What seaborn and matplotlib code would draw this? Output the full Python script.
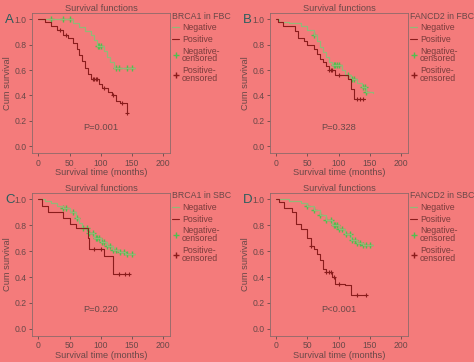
import numpy as np
import pandas as pd
import matplotlib
matplotlib.use("Agg")
import matplotlib.pyplot as plt
import seaborn as sns
from matplotlib.lines import Line2D

# ---- data (months, cumulative survival) ----
# A: BRCA1 in FBC
a_neg_t = [0, 55, 65, 75, 85, 90, 95, 105, 110, 115, 122, 155]
a_neg_s = [1.0, 0.97, 0.94, 0.91, 0.88, 0.84, 0.79, 0.75, 0.70, 0.66, 0.62, 0.62]
a_neg_c = [20, 40, 50, 96, 98, 100, 125, 130, 143, 150]
a_pos_t = [0, 10, 20, 30, 40, 48, 55, 62, 66, 70, 75, 80, 85, 98, 103, 112, 118, 125, 132, 142]
a_pos_s = [1.0, 0.98, 0.95, 0.92, 0.88, 0.85, 0.81, 0.77, 0.72, 0.67, 0.62, 0.57, 0.53, 0.49, 0.46, 0.43, 0.40, 0.36, 0.34, 0.26]
a_pos_c = [35, 45, 87, 90, 92, 95, 105, 120, 135, 142]

# B: FANCD2 in FBC
b_neg_t = [0, 5, 20, 40, 50, 60, 65, 70, 75, 80, 85, 90, 105, 110, 120, 130, 138, 145, 155]
b_neg_s = [1.0, 0.98, 0.97, 0.95, 0.92, 0.88, 0.83, 0.78, 0.74, 0.70, 0.66, 0.64, 0.60, 0.56, 0.53, 0.50, 0.47, 0.43, 0.42]
b_neg_c = [60, 92, 95, 98, 100, 115, 122, 125, 140, 143, 145]
b_pos_t = [0, 3, 10, 30, 35, 45, 50, 60, 65, 70, 75, 80, 85, 95, 115, 120, 125, 142]
b_pos_s = [1.0, 0.98, 0.95, 0.91, 0.85, 0.83, 0.80, 0.77, 0.73, 0.69, 0.66, 0.63, 0.60, 0.56, 0.53, 0.45, 0.37, 0.37]
b_pos_c = [85, 88, 90, 100, 130, 135, 140]

# C: BRCA1 in SBC
c_neg_t = [0, 10, 20, 30, 40, 50, 60, 65, 70, 80, 90, 100, 110, 120, 130, 140, 155]
c_neg_s = [1.0, 0.99, 0.97, 0.95, 0.93, 0.90, 0.86, 0.82, 0.78, 0.74, 0.70, 0.67, 0.64, 0.61, 0.59, 0.58, 0.58]
c_neg_c = [40, 45, 55, 62, 72, 78, 82, 88, 92, 95, 98, 102, 106, 110, 115, 120, 125, 132, 138, 142, 150]
c_pos_t = [0, 5, 15, 40, 50, 60, 80, 82, 105, 120, 145]
c_pos_s = [1.0, 0.95, 0.90, 0.86, 0.81, 0.78, 0.70, 0.62, 0.56, 0.42, 0.42]
c_pos_c = [90, 100, 130, 140, 145]

# D: FANCD2 in SBC
d_neg_t = [0, 20, 40, 50, 60, 70, 80, 90, 100, 110, 120, 130, 140, 155]
d_neg_s = [1.0, 0.99, 0.97, 0.95, 0.92, 0.88, 0.84, 0.80, 0.77, 0.73, 0.69, 0.66, 0.65, 0.65]
d_neg_c = [50, 60, 70, 80, 88, 92, 95, 98, 100, 105, 112, 118, 122, 126, 130, 135, 140, 145, 150]
d_pos_t = [0, 5, 12, 25, 32, 40, 50, 55, 60, 65, 70, 75, 80, 90, 95, 110, 120, 145]
d_pos_s = [1.0, 0.98, 0.93, 0.90, 0.81, 0.77, 0.70, 0.64, 0.62, 0.58, 0.53, 0.46, 0.44, 0.40, 0.35, 0.34, 0.26, 0.26]
d_pos_c = [55, 80, 85, 88, 92, 100, 130, 145]

letters = ["A", "B", "C", "D"]
groups = ["BRCA1 in FBC", "FANCD2 in FBC", "BRCA1 in SBC", "FANCD2 in SBC"]
pvals = ["P=0.001", "P=0.328", "P=0.220", "P<0.001"]

BG = "#f47b7b"
TXT = "#6a4848"
LEG = "#7a3c3c"
GREEN = "#93b877"
GREEN_M = "#4fbf4f"
RED = "#8a1c1c"

sns.set_theme(style="ticks")
plt.rcParams["font.family"] = ["Liberation Sans", "DejaVu Sans"]

fig = plt.figure(figsize=(4.74, 3.62), dpi=100, facecolor=BG)

panels = [
    (a_neg_t, a_neg_s, a_neg_c, a_pos_t, a_pos_s, a_pos_c),
    (b_neg_t, b_neg_s, b_neg_c, b_pos_t, b_pos_s, b_pos_c),
    (c_neg_t, c_neg_s, c_neg_c, c_pos_t, c_pos_s, c_pos_c),
    (d_neg_t, d_neg_s, d_neg_c, d_pos_t, d_pos_s, d_pos_c),
]
rects = [
    [0.068, 0.577, 0.291, 0.387],
    [0.570, 0.577, 0.291, 0.387],
    [0.068, 0.072, 0.291, 0.395],
    [0.570, 0.072, 0.291, 0.395],
]


def censor_y(t, s, ct):
    idx = np.searchsorted(t, ct, side="right") - 1
    return np.array(s)[idx]


for i, (nt, ns, nc, pt, ps, pc) in enumerate(panels):
    ax = fig.add_axes(rects[i])
    ax.set_facecolor(BG)
    neg = pd.DataFrame({"t": nt, "s": ns})
    pos = pd.DataFrame({"t": pt, "s": ps})
    sns.lineplot(data=neg, x="t", y="s", ax=ax, color=GREEN, lw=0.9,
                 drawstyle="steps-post", estimator=None, sort=False)
    sns.lineplot(data=pos, x="t", y="s", ax=ax, color=RED, lw=0.8,
                 drawstyle="steps-post", estimator=None, sort=False)
    nc_df = pd.DataFrame({"t": nc, "s": censor_y(nt, ns, nc)})
    pc_df = pd.DataFrame({"t": pc, "s": censor_y(pt, ps, pc)})
    sns.scatterplot(data=nc_df, x="t", y="s", ax=ax, marker="+", color=GREEN_M,
                    s=16, linewidth=1.0)
    sns.scatterplot(data=pc_df, x="t", y="s", ax=ax, marker="+", color=RED,
                    s=12, linewidth=0.8)

    ax.set_xlim(-10, 212)
    ax.set_ylim(-0.055, 1.05)
    ax.set_xticks([0, 50, 100, 150, 200])
    ax.set_yticks([0.0, 0.2, 0.4, 0.6, 0.8, 1.0])
    ax.set_yticklabels(["0.0", "0.2", "0.4", "0.6", "0.8", "1.0"])
    ax.tick_params(colors=TXT, labelsize=6.2, length=2.5, width=0.6, pad=1.5)
    for sp in ax.spines.values():
        sp.set_color("#8c6a6a")
        sp.set_linewidth(0.6)
    ax.set_xlabel("Survival time (months)", color=TXT, fontsize=6.7, labelpad=0.5)
    ax.set_ylabel("Cum survival", color=TXT, fontsize=6.7, labelpad=1.5)
    ax.set_title("Survival functions", color=TXT, fontsize=6.7, pad=1.5)
    ax.text(100, 0.15, pvals[i], color=TXT, fontsize=6.7, ha="center", va="center")
    ax.text(-0.195, 0.995, letters[i], transform=ax.transAxes, color="#2a5e5e",
            fontsize=9.5, ha="left", va="top")

    handles = [
        Line2D([], [], color=GREEN, lw=0.9, drawstyle="steps-post"),
        Line2D([], [], color=RED, lw=0.8, drawstyle="steps-post"),
        Line2D([], [], color=GREEN_M, lw=0, marker="+", markersize=4.5),
        Line2D([], [], color=RED, lw=0, marker="+", markersize=4.5),
    ]
    labels = ["Negative", "Positive", "Negative-\ncensored", "Positive-\ncensored"]
    leg = ax.legend(handles, labels, title=groups[i], loc="upper left",
                    bbox_to_anchor=(0.99, 1.035), frameon=False, fontsize=6.3,
                    title_fontsize=6.3, handlelength=0.8, handletextpad=0.3,
                    labelspacing=0.3, borderaxespad=0.2, borderpad=0.2)
    leg._legend_box.align = "left"
    leg.get_title().set_color(TXT)
    for txt in leg.get_texts():
        txt.set_color(LEG)
        txt.set_linespacing(0.85)

fig.savefig("out.png", dpi=100, facecolor=BG)
